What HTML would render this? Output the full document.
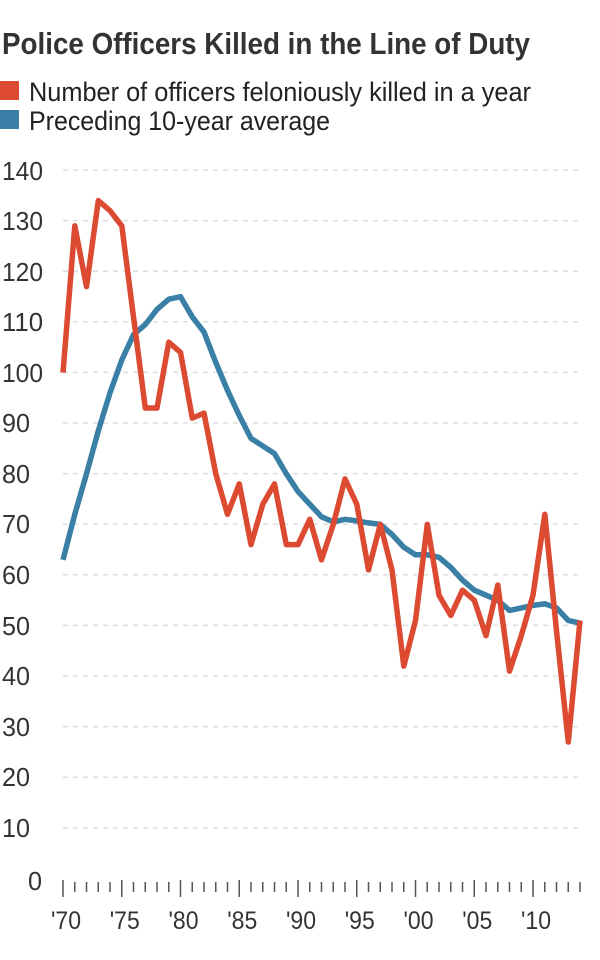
<!DOCTYPE html>
<html><head><meta charset="utf-8"><style>
html,body{margin:0;padding:0;background:#fff;width:600px;height:960px;overflow:hidden}
text{font-family:"Liberation Sans",sans-serif}
</style></head><body>
<svg width="600" height="960" xmlns="http://www.w3.org/2000/svg">
<text x="2" y="54" font-size="31" font-weight="bold" fill="#333" textLength="528" lengthAdjust="spacingAndGlyphs">Police Officers Killed in the Line of Duty</text>
<rect x="0" y="81" width="19" height="19" fill="#dc4a32"/>
<text x="29" y="101" font-size="27" fill="#222" textLength="502" lengthAdjust="spacingAndGlyphs">Number of officers feloniously killed in a year</text>
<rect x="0" y="110" width="19" height="19" fill="#3a7fa5"/>
<text x="29" y="130" font-size="27" fill="#222" textLength="301" lengthAdjust="spacingAndGlyphs">Preceding 10-year average</text>
<g stroke="#ddd" stroke-width="1.5" stroke-dasharray="5,5">
<line x1="63" x2="578" y1="170" y2="170"/><line x1="63" x2="578" y1="220.6" y2="220.6"/><line x1="63" x2="578" y1="271.2" y2="271.2"/><line x1="63" x2="578" y1="321.8" y2="321.8"/><line x1="63" x2="578" y1="372.4" y2="372.4"/><line x1="63" x2="578" y1="423" y2="423"/><line x1="63" x2="578" y1="473.6" y2="473.6"/><line x1="63" x2="578" y1="524.2" y2="524.2"/><line x1="63" x2="578" y1="574.8" y2="574.8"/><line x1="63" x2="578" y1="625.4" y2="625.4"/><line x1="63" x2="578" y1="676" y2="676"/><line x1="63" x2="578" y1="726.6" y2="726.6"/><line x1="63" x2="578" y1="777.2" y2="777.2"/><line x1="63" x2="578" y1="827.8" y2="827.8"/>
</g>
<g font-size="26" fill="#333">
<text x="2" y="180" textLength="41" lengthAdjust="spacingAndGlyphs">140</text>
<text x="2" y="230" textLength="41" lengthAdjust="spacingAndGlyphs">130</text>
<text x="2" y="281" textLength="41" lengthAdjust="spacingAndGlyphs">120</text>
<text x="2" y="331" textLength="41" lengthAdjust="spacingAndGlyphs">110</text>
<text x="2" y="382" textLength="41" lengthAdjust="spacingAndGlyphs">100</text>
<text x="2" y="432" textLength="28" lengthAdjust="spacingAndGlyphs">90</text>
<text x="2" y="483" textLength="28" lengthAdjust="spacingAndGlyphs">80</text>
<text x="2" y="533" textLength="28" lengthAdjust="spacingAndGlyphs">70</text>
<text x="2" y="584" textLength="28" lengthAdjust="spacingAndGlyphs">60</text>
<text x="2" y="635" textLength="28" lengthAdjust="spacingAndGlyphs">50</text>
<text x="2" y="685" textLength="28" lengthAdjust="spacingAndGlyphs">40</text>
<text x="2" y="736" textLength="28" lengthAdjust="spacingAndGlyphs">30</text>
<text x="2" y="786" textLength="28" lengthAdjust="spacingAndGlyphs">20</text>
<text x="2" y="837" textLength="28" lengthAdjust="spacingAndGlyphs">10</text>
<text x="28" y="890" textLength="14" lengthAdjust="spacingAndGlyphs">0</text>
</g>
<g id="ticks" stroke="#555" stroke-width="1.5"></g>
<g font-size="25" fill="#333" text-anchor="middle" id="xl"></g>
<polyline id="blue" fill="none" stroke="#3a7fa5" stroke-width="5.5" stroke-linejoin="round"/>
<polyline id="red" fill="none" stroke="#dc4a32" stroke-width="5.5" stroke-linejoin="round"/>
</svg>
<script>
var red=[100,129,117,134,132,129,111,93,93,106,104,91,92,80,72,78,66,74,78,66,66,71,63,70,79,74,61,70,61,42,51,70,56,52,57,55,48,58,41,48,56,72,49,27,51];
var blue=[63,72,80,88.5,96,102.5,107.5,109.5,112.5,114.5,115,111,108,102,96.5,91.5,87,85.5,84,80,76.5,74,71.5,70.5,71,70.7,70.3,70,68,65.5,64,64,63.5,61.5,59,57,56,55,53,53.5,54,54.3,53.5,51,50.5];
function X(i){return 63+i*11.75}function Y(v){return 878.6-v*5.06}
function pts(a){return a.map(function(v,i){return X(i).toFixed(1)+","+Y(v).toFixed(1)}).join(" ")}
document.getElementById("red").setAttribute("points",pts(red));
document.getElementById("blue").setAttribute("points",pts(blue));
var ns="http://www.w3.org/2000/svg",t=document.getElementById("ticks"),xl=document.getElementById("xl");
for(var i=0;i<45;i++){var l=document.createElementNS(ns,"line");var big=i%5==0;l.setAttribute("x1",X(i));l.setAttribute("x2",X(i));l.setAttribute("y1",big?880:882);l.setAttribute("y2",big?897:892);t.appendChild(l);
if(big&&i<=40){var tx=document.createElementNS(ns,"text");tx.setAttribute("x",X(i)+3);tx.setAttribute("y",929);tx.setAttribute("textLength","30");tx.setAttribute("lengthAdjust","spacingAndGlyphs");var yy=(70+i)%100;tx.textContent="'"+(yy<10?"0"+yy:yy);xl.appendChild(tx);}}
</script>
</body></html>
